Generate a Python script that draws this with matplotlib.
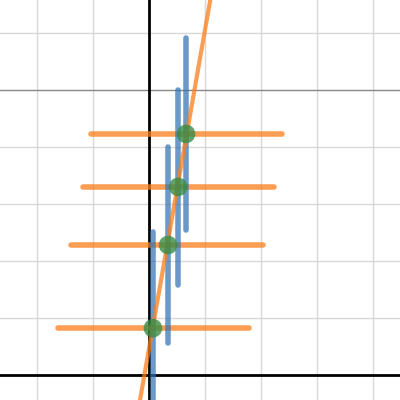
import matplotlib
matplotlib.use("Agg")
import matplotlib.pyplot as plt
import numpy as np

xs = [0.07, 0.34, 0.52, 0.66]
ys = [0.82, 2.28, 3.30, 4.23]
x_lo = [-1.62, -1.39, -1.18, -1.04]
x_hi = [1.79, 2.04, 2.23, 2.38]
y_lo = [-0.6, 0.56, 1.58, 2.54]
y_hi = [2.51, 4.0, 5.0, 5.91]
slope, intercept = 5.6, 0.46

xmin, xmax = -2.66, 4.48
ymin, ymax = -0.44, 6.58

fig = plt.figure(figsize=(4, 4), dpi=100)
ax = fig.add_axes([0, 0, 1, 1])
ax.set_xlim(xmin, xmax)
ax.set_ylim(ymin, ymax)
ax.axis('off')
for gx in range(-2, 5):
    ax.axvline(gx, color='#d8d8d8', lw=1, zorder=0)
for gy in range(0, 7):
    ax.axhline(gy, color='#888888' if gy == 5 else '#d8d8d8', lw=1, zorder=0)
ax.axhline(0, color='black', lw=2, zorder=1)
ax.axvline(0, color='black', lw=2, zorder=1)

for x, y, a, b, c, d in zip(xs, ys, x_lo, x_hi, y_lo, y_hi):
    ax.plot([a, b], [y, y], color='#fa7e19', alpha=0.75, lw=4, solid_capstyle='round', zorder=2)
    ax.plot([x, x], [c, d], color='#2d70b3', alpha=0.7, lw=4, solid_capstyle='round', zorder=3)
lx = np.array([xmin, xmax])
ax.plot(lx, slope * lx + intercept, color='#fa7e19', alpha=0.75, lw=3, zorder=4)
ax.scatter(xs, ys, s=180, color='#388c46', alpha=0.8, edgecolor='none', zorder=5)
fig.savefig('out.png', dpi=100)
